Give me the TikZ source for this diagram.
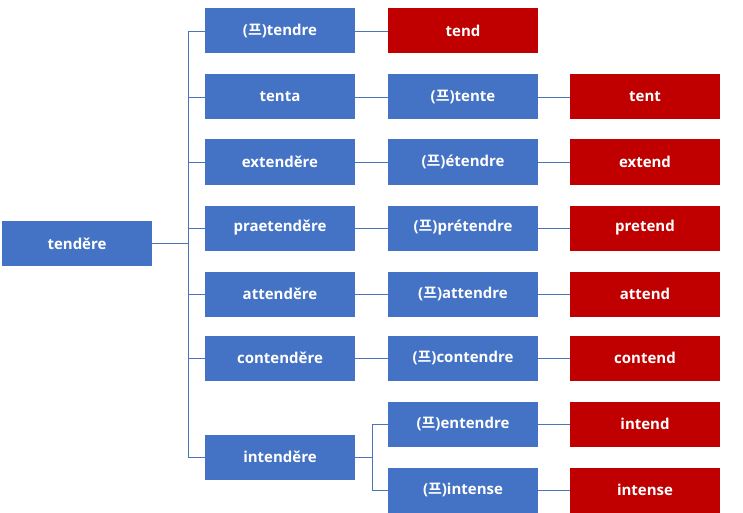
\documentclass[tikz,border=0pt]{standalone}
\usepackage{fontspec}
\setmainfont{Open Sans}
\newfontfamily\kr{Noto Sans CJK KR}[BoldFont={Noto Sans CJK KR Bold}]
\usetikzlibrary{positioning}
\definecolor{wdblue}{HTML}{4472C4}
\definecolor{wdred}{HTML}{C00000}
\definecolor{wdline}{HTML}{4A75B8}
\newcommand{\fr}{({\kr 프})}
\tikzset{
  word/.style={draw=none, fill=wdblue, text=white, font=\fontsize{15}{18}\selectfont\bfseries,
    minimum width=150pt, minimum height=45pt, inner sep=0pt},
  eng/.style={word, fill=wdred},
  link/.style={draw=wdline, line width=0.8pt}
}
\begin{document}
\begin{tikzpicture}[x=1pt, y=-1pt]
  \useasboundingbox (0,0) rectangle (743,513);
  % root
  \node[word] (tendere) at (77,243.5) {tend\v{e}re};
  % latin column
  \node[word] (tenta) at (280,97) {tenta};
  \node[word] (extendere) at (280,162) {extend\v{e}re};
  \node[word] (praetendere) at (280,228) {praetend\v{e}re};
  \node[word] (attendere) at (280,294) {attend\v{e}re};
  \node[word] (contendere) at (280,358) {contend\v{e}re};
  \node[word] (intendere) at (280,457) {intend\v{e}re};
  \node[word] (frtendre) at (280,31) {\fr tendre};
  % french column
  \node[eng] (tend) at (463,31) {tend};
  \node[word] (frtente) at (463,97) {\fr tente};
  \node[word] (fretendre) at (463,162) {\fr \'etendre};
  \node[word] (frpretendre) at (463,228) {\fr pr\'etendre};
  \node[word] (frattendre) at (463,294) {\fr attendre};
  \node[word] (frcontendre) at (463,358) {\fr contendre};
  \node[word] (frentendre) at (463,424) {\fr entendre};
  \node[word] (frintense) at (463,490) {\fr intense};
  % english column
  \node[eng] (tent) at (645,97) {tent};
  \node[eng] (extend) at (645,162) {extend};
  \node[eng] (pretend) at (645,228) {pretend};
  \node[eng] (attend) at (645,294) {attend};
  \node[eng] (contend) at (645,358) {contend};
  \node[eng] (intend) at (645,424) {intend};
  \node[eng] (intense) at (645,490) {intense};
  % connectors
  \coordinate (fork) at (188,243.5);
  \draw[link] (tendere.east) -- (fork);
  \foreach \n in {frtendre, tenta, extendere, praetendere, attendere, contendere, intendere}
    \draw[link] (fork) |- (\n.west);
  \foreach \a/\b in {frtendre/tend, tenta/frtente, extendere/fretendre, praetendere/frpretendre,
      attendere/frattendre, contendere/frcontendre, frtente/tent, fretendre/extend,
      frpretendre/pretend, frattendre/attend, frcontendre/contend, frentendre/intend, frintense/intense}
    \draw[link] (\a.east) -- (\b.west);
  \coordinate (split) at (372,457);
  \draw[link] (intendere.east) -- (split);
  \draw[link] (split) |- (frentendre.west);
  \draw[link] (split) |- (frintense.west);
\end{tikzpicture}
\end{document}
